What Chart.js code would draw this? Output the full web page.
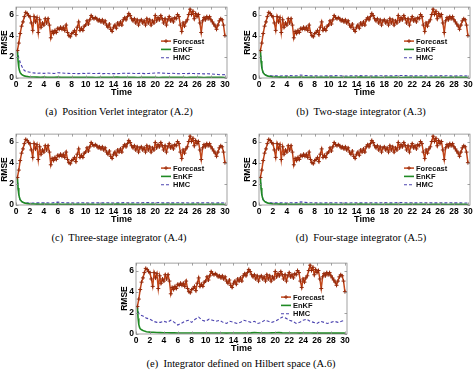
<!DOCTYPE html>
<html>
<head>
<meta charset="utf-8">
<script src="https://cdn.jsdelivr.net/npm/chart.js@4/dist/chart.umd.min.js"></script>
<style>
body{margin:0;background:#fff;width:474px;height:374px;position:relative;overflow:hidden}
canvas{position:absolute}
.cap{position:absolute;width:240px;text-align:center;font:10.5px 'Liberation Serif','Times New Roman',serif;color:#000;white-space:nowrap}
</style>
</head>
<body>
<canvas id="pa" width="232" height="100" style="left:0;top:0"></canvas>
<canvas id="pb" width="232" height="100" style="left:243px;top:0"></canvas>
<canvas id="pc" width="232" height="100" style="left:0;top:127px"></canvas>
<canvas id="pd" width="232" height="100" style="left:243px;top:127px"></canvas>
<canvas id="pe" width="232" height="100" style="left:120px;top:256px"></canvas>
<div class="cap" style="left:-1px;top:106px">(a)&nbsp; Position Verlet integrator (A.2)</div>
<div class="cap" style="left:241px;top:106px">(b)&nbsp; Two-stage integrator (A.3)</div>
<div class="cap" style="left:-1px;top:232px">(c)&nbsp; Three-stage integrator (A.4)</div>
<div class="cap" style="left:241px;top:232px">(d)&nbsp; Four-stage integrator (A.5)</div>
<div class="cap" style="left:121px;top:358px">(e)&nbsp; Integrator defined on Hilbert space (A.6)</div>
<script>
// forecast RMSE, sampled every 0.2 time units from t = 0.2
const forecast = [
  2.6,3.3,4.2,4.9,5.3,5.8,6.2,6.1,5.9,5.8,
  5.2,4.5,5.8,5.3,5.7,4.3,5.5,4.8,5.2,5.0,
  5.6,5.2,5.6,5.0,3.8,4.4,4.2,4.5,4.3,4.7,
  4.6,4.8,4.6,4.8,4.5,5.0,4.3,4.0,3.9,4.2,
  4.3,4.5,4.1,4.8,5.3,4.5,4.7,4.5,4.9,5.0,
  5.4,5.1,5.5,5.9,5.7,5.6,5.7,5.6,5.4,5.5,
  5.3,5.5,5.2,5.4,5.0,4.8,5.1,4.6,4.4,4.8,
  5.0,4.7,5.2,5.0,5.3,5.0,5.5,5.7,5.5,5.8,
  6.1,5.9,5.6,5.4,5.6,5.2,5.5,5.0,5.4,5.5,
  5.2,5.4,5.0,5.6,5.2,5.5,5.0,5.4,5.2,5.9,
  5.4,5.7,5.5,5.9,5.6,5.2,5.6,5.0,5.5,5.8,
  5.4,5.6,5.3,5.7,5.6,6.0,5.8,5.0,4.4,5.2,
  4.9,5.3,5.5,6.0,6.5,6.0,6.3,5.6,6.1,5.8,
  6.0,5.2,4.3,5.4,5.7,5.5,5.8,5.6,5.8,5.5,
  5.3,5.1,4.9,4.6,5.0,5.4,5.6,5.5,5.0,4.0
];

// times of the filter curves (EnKF, HMC)
const filterTime = [
  0.2,0.3,0.4,0.5,0.6,0.8,1,1.2,1.5,2,
  2.5,3,3.5,4,4.5,5,5.5,6,6.5,7,
  7.5,8,8.5,9,9.5,10,10.5,11,11.5,12,
  12.5,13,13.5,14,14.5,15,15.5,16,16.5,17,
  17.5,18,18.5,19,19.5,20,20.5,21,21.5,22,
  22.5,23,23.5,24,24.5,25,25.5,26,26.5,27,
  27.5,28,28.5,29,29.5,30
];

const enkf = [
  2.6,1.6,1.0,0.7,0.5,0.35,0.25,0.2,0.15,0.1,
  0.09,0.08,0.07,0.08,0.07,0.06,0.07,0.08,0.07,0.06,
  0.06,0.07,0.06,0.07,0.06,0.06,0.07,0.06,0.05,0.06,
  0.07,0.06,0.06,0.07,0.08,0.07,0.06,0.06,0.07,0.06,
  0.05,0.06,0.06,0.07,0.06,0.06,0.05,0.06,0.07,0.06,
  0.06,0.07,0.06,0.06,0.05,0.06,0.07,0.06,0.06,0.05,
  0.06,0.06,0.07,0.06,0.06,0.05
];
const enkfE = [
  2.6,1.5,0.9,0.65,0.5,0.4,0.33,0.28,0.22,0.18,
  0.16,0.14,0.13,0.12,0.12,0.11,0.11,0.1,0.1,0.1,
  0.1,0.09,0.1,0.09,0.09,0.1,0.09,0.09,0.1,0.09,
  0.09,0.08,0.09,0.09,0.1,0.09,0.09,0.1,0.11,0.13,
  0.12,0.1,0.09,0.1,0.11,0.12,0.13,0.11,0.1,0.09,
  0.1,0.09,0.08,0.09,0.1,0.09,0.08,0.09,0.08,0.08,
  0.09,0.08,0.08,0.09,0.08,0.08
];

const hmcA = [
  2.6,2.2,1.9,1.7,1.5,1.15,0.9,0.7,0.6,0.55,
  0.48,0.45,0.46,0.44,0.47,0.45,0.42,0.5,0.48,0.45,
  0.44,0.42,0.43,0.41,0.44,0.42,0.45,0.43,0.42,0.44,
  0.41,0.43,0.4,0.42,0.41,0.43,0.45,0.44,0.46,0.43,
  0.42,0.44,0.41,0.43,0.45,0.47,0.48,0.46,0.44,0.43,
  0.45,0.42,0.4,0.43,0.41,0.44,0.42,0.4,0.42,0.39,
  0.4,0.38,0.36,0.33,0.3,0.32
];
const hmcB = [
  2.6,1.7,1.1,0.7,0.5,0.35,0.28,0.24,0.22,0.2,
  0.2,0.19,0.21,0.2,0.22,0.2,0.21,0.28,0.24,0.22,
  0.2,0.21,0.2,0.19,0.21,0.2,0.2,0.22,0.21,0.2,
  0.19,0.2,0.21,0.2,0.22,0.2,0.21,0.19,0.2,0.2,
  0.21,0.2,0.22,0.2,0.21,0.24,0.23,0.22,0.2,0.21,
  0.2,0.22,0.21,0.2,0.19,0.2,0.21,0.22,0.2,0.21,
  0.2,0.19,0.2,0.21,0.2,0.19
];
const hmcC = [
  2.6,1.6,1.0,0.65,0.45,0.32,0.26,0.22,0.2,0.19,
  0.19,0.2,0.2,0.21,0.2,0.19,0.22,0.27,0.23,0.21,
  0.2,0.2,0.19,0.2,0.21,0.2,0.19,0.21,0.2,0.2,
  0.2,0.21,0.2,0.19,0.21,0.2,0.22,0.2,0.2,0.21,
  0.2,0.21,0.23,0.22,0.2,0.21,0.22,0.2,0.2,0.21,
  0.2,0.21,0.22,0.2,0.2,0.19,0.2,0.21,0.2,0.2,
  0.21,0.2,0.19,0.2,0.2,0.19
];
const hmcD = [
  2.6,1.65,1.05,0.68,0.48,0.34,0.27,0.23,0.21,0.2,
  0.2,0.2,0.21,0.19,0.21,0.2,0.22,0.29,0.25,0.22,
  0.21,0.2,0.2,0.19,0.2,0.21,0.2,0.21,0.2,0.2,
  0.2,0.19,0.21,0.2,0.21,0.2,0.2,0.2,0.21,0.2,
  0.2,0.22,0.21,0.2,0.21,0.23,0.22,0.21,0.2,0.21,
  0.2,0.21,0.22,0.21,0.2,0.2,0.2,0.21,0.2,0.2,
  0.21,0.2,0.2,0.2,0.19,0.19
];
const hmcE = [
  2.6,2.2,1.95,1.85,1.8,1.75,1.7,1.6,1.5,1.4,
  1.2,1.1,1.1,1.2,1.1,1.3,1.1,0.85,1.0,1.2,
  1.3,1.1,1.4,1.6,1.3,1.2,1.4,1.3,1.2,1.3,
  1.1,1.0,1.2,1.1,1.0,1.1,1.3,1.2,1.1,1.2,
  1.0,1.1,1.3,1.2,1.1,1.2,1.4,1.6,1.5,1.3,
  1.2,1.0,1.1,1.3,1.4,1.2,1.1,1.0,1.2,1.1,
  1.0,1.1,1.2,1.1,1.2,1.3
];

const xTicksMax = 30.3;
const yTicksMax = 6.7;
const fam = '"Liberation Sans", Arial, sans-serif';

const fcPoints = forecast.map((v, i) => ({x: +(0.2 + i * 0.2).toFixed(1), y: v}));
const toPoints = arr => arr.map((v, i) => ({x: filterTime[i], y: v}));

// box around the axes plus inward tick marks, matlab style
const frame = {
  id: 'frame',
  afterDraw(chart) {
    const {ctx, chartArea: a, scales} = chart;
    ctx.save();
    ctx.strokeStyle = '#8a8a8a';
    ctx.lineWidth = 0.8;
    ctx.strokeRect(a.left, a.top, a.right - a.left, a.bottom - a.top);
    ctx.beginPath();
    scales.x.ticks.forEach(t => {
      const px = Math.round(scales.x.getPixelForValue(t.value)) + 0.5;
      ctx.moveTo(px, a.bottom); ctx.lineTo(px, a.bottom - 2.5);
      ctx.moveTo(px, a.top); ctx.lineTo(px, a.top + 2.5);
    });
    scales.y.ticks.forEach(t => {
      const py = Math.round(scales.y.getPixelForValue(t.value)) + 0.5;
      ctx.moveTo(a.left, py); ctx.lineTo(a.left + 2.5, py);
      ctx.moveTo(a.right, py); ctx.lineTo(a.right - 2.5, py);
    });
    ctx.stroke();
    ctx.restore();
  }
};

const legendBox = {
  id: 'legendBox',
  afterDatasetsDraw(chart) {
    const {ctx, chartArea: a} = chart;
    const x0 = a.left + 145;
    ctx.save();
    ctx.font = 'bold 7.5px ' + fam;
    ctx.textBaseline = 'middle';
    chart.data.datasets.forEach((ds, i) => {
      const y = a.top + 34 + i * 8.3;
      ctx.strokeStyle = ds.borderColor;
      ctx.lineWidth = ds.borderWidth;
      ctx.setLineDash(ds.borderDash || []);
      ctx.beginPath();
      ctx.moveTo(x0, y); ctx.lineTo(x0 + 10, y);
      ctx.stroke();
      ctx.setLineDash([]);
      if (ds.pointRadius) {
        ctx.strokeStyle = ds.pointBorderColor;
        ctx.lineWidth = 1;
        ctx.beginPath();
        ctx.moveTo(x0 + 5, y - 2); ctx.lineTo(x0 + 5, y + 2);
        ctx.moveTo(x0 + 3, y); ctx.lineTo(x0 + 7, y);
        ctx.stroke();
      }
      ctx.fillStyle = '#111';
      ctx.fillText(ds.label, x0 + 12, y + 0.5);
    });
    ctx.restore();
  }
};

function makePanel(id, enkfData, hmcData) {
  new Chart(document.getElementById(id), {
    type: 'line',
    data: {
      datasets: [
        {label: 'Forecast', data: fcPoints, borderColor: '#c2461a', borderWidth: 1.5,
         pointStyle: 'cross', pointRadius: 2, pointBorderWidth: 1, pointBorderColor: '#942a0c'},
        {label: 'EnKF', data: toPoints(enkfData), borderColor: '#1f8a24', borderWidth: 1.6, pointRadius: 0},
        {label: 'HMC', data: toPoints(hmcData), borderColor: '#4c44b0', borderWidth: 1.1, borderDash: [3, 2], pointRadius: 0}
      ]
    },
    options: {
      responsive: false,
      animation: false,
      devicePixelRatio: 1,
      layout: {padding: {top: 1, right: 2, left: 0, bottom: 0}},
      elements: {line: {tension: 0}},
      plugins: {legend: {display: false}, tooltip: {enabled: false}},
      scales: {
        x: {
          type: 'linear', min: 0, max: xTicksMax,
          grid: {display: false, drawTicks: false},
          border: {display: false},
          ticks: {stepSize: 2, includeBounds: false, padding: 2, maxRotation: 0, autoSkip: false,
                  color: '#000', font: {size: 8.5, weight: 'bold', family: fam}},
          title: {display: true, text: 'Time', color: '#000',
                  font: {size: 9, weight: 'bold', family: fam}, padding: {top: 0, bottom: 2}},
          afterFit(s) { s.height = 22; }
        },
        y: {
          min: 0, max: yTicksMax,
          grid: {display: false, drawTicks: false},
          border: {display: false},
          ticks: {stepSize: 2, includeBounds: false, padding: 2,
                  color: '#000', font: {size: 8.5, weight: 'bold', family: fam}},
          title: {display: true, text: 'RMSE', color: '#000',
                  font: {size: 8.5, weight: 'bold', family: fam}, padding: {top: 0, bottom: 0}},
          afterFit(s) { s.width = 16; }
        }
      }
    },
    plugins: [frame, legendBox]
  });
}

makePanel('pa', enkf, hmcA);
makePanel('pb', enkf, hmcB);
makePanel('pc', enkf, hmcC);
makePanel('pd', enkf, hmcD);
makePanel('pe', enkfE, hmcE);
</script>
</body>
</html>
